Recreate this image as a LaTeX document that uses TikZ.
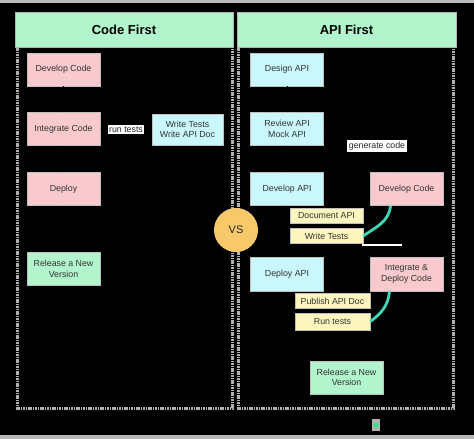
\documentclass[tikz,border=0pt]{standalone}
\usepackage{fontspec}
\setmainfont{Liberation Sans}
\usepackage{tikz}
\definecolor{mint}{HTML}{B2F5CC}
\definecolor{pinkbox}{HTML}{F8C9CD}
\definecolor{cyanbox}{HTML}{C9F7FB}
\definecolor{yellowbox}{HTML}{FCF5BE}
\definecolor{tealline}{HTML}{3FD8B6}
\definecolor{vsorange}{HTML}{F8C96A}
\tikzstyle{box}=[rectangle,draw=gray!50,minimum width=73pt,minimum height=33pt,inner sep=1pt,align=center,text=black!80,font=\fontsize{8.8}{10.5}\selectfont]
\tikzstyle{codebox}=[box,fill=pinkbox]
\tikzstyle{apibox}=[box,fill=cyanbox]
\tikzstyle{relbox}=[box,fill=mint]
\tikzstyle{docbox}=[box,fill=yellowbox,minimum height=15pt]
\tikzstyle{tag}=[rectangle,fill=white,inner sep=1.5pt,text=black!85,font=\fontsize{8.8}{10.5}\selectfont]
\tikzstyle{head}=[rectangle,fill=mint,draw=gray!60,minimum height=35pt,font=\fontsize{13}{15}\selectfont\bfseries]
\tikzstyle{flow}=[->,>=stealth,black]
\tikzstyle{link}=[tealline,line width=2.8pt]
\tikzstyle{panel}=[gray!60,line width=3pt,dash pattern=on 1.6pt off 0.8pt]

\begin{document}
\begin{tikzpicture}[x=1pt,y=-1pt]
    \useasboundingbox (0,0) rectangle (474,439);
    \fill[black] (0,0) rectangle (474,439);
    \fill[gray!55] (0,0) rectangle (474,3);
    \fill[gray!55] (0,435) rectangle (474,439);
%    panels
    \draw[panel] (17,47) -- (17,408) -- (232,408) -- (232,47);
    \draw[panel] (238,47) -- (238,408) -- (453,408) -- (453,47);
    \node[head,minimum width=218pt] (hcode) at (124,29.5) {Code First};
    \node[head,minimum width=219pt] (hapi) at (346.5,29.5) {API First};
%    code first
    \node[codebox] (dc) at (63.5,69.5) {Develop Code};
    \node[codebox] (ic) at (63.5,129) {Integrate Code};
    \node[apibox,minimum width=71pt,minimum height=31pt] (wt) at (187.5,129.5) {Write Tests\\Write API Doc};
    \node[codebox] (dp) at (63.5,189) {Deploy};
    \node[relbox] (rl) at (63.5,269) {Release a New\\Version};
    \draw[flow] (dc) -- (ic);
    \draw[flow] (ic) -- (dp);
    \draw[flow] (dp) -- (rl);
    \draw[flow] (wt) -- node[tag] {run tests} (ic);
%    api first
    \node[apibox] (da) at (287,69.5) {Design API};
    \node[apibox] (ra) at (287,129) {Review API\\Mock API};
    \node[apibox] (dv) at (287,189) {Develop API};
    \node[codebox] (dcr) at (406.5,189) {Develop Code};
    \node[docbox] (doc) at (326.5,216) {Document API};
    \node[docbox] (wtr) at (326.5,236) {Write Tests};
    \node[apibox,minimum height=34pt] (dpa) at (287,274) {Deploy API};
    \node[codebox,minimum height=34pt] (idc) at (406.5,274) {Integrate \&\\Deploy Code};
    \node[docbox,minimum width=75pt] (pub) at (332.5,301) {Publish API Doc};
    \node[docbox,minimum width=75pt,minimum height=17pt] (rt) at (332.5,321.5) {Run tests};
    \node[relbox] (rlr) at (346.5,377.5) {Release a New\\Version};
    \node[tag] (gen) at (377,146) {generate code};
    \draw[flow] (da) -- (ra);
    \draw[flow] (ra) -- (dv);
    \draw[flow] (dv) -- (dpa);
    \draw[black] (ra) -- (gen);
    \draw[flow] (gen) -- (dcr);
    \draw[link] ([xshift=-16pt]dcr.south) to[out=-95,in=35] (wtr.east);
    \draw[link] ([xshift=-17pt]idc.south) to[out=-95,in=35] (rt.east);
    \coordinate (wtend) at (402,245);
    \draw[white,line width=1.5pt] (wtr.south east) |- (wtend);
%    vs
    \node[circle,fill=vsorange,minimum size=44pt,text=black!85,font=\fontsize{11}{13}\selectfont] (vs) at (236,230) {VS};
    \node[rectangle,fill=gray!60,minimum width=8pt,minimum height=12pt,inner sep=0pt] (logo) at (376,425) {};
    \node[circle,fill=tealline!70!green,minimum size=5pt,inner sep=0pt] (logoface) at (logo) {};
\end{tikzpicture}
\end{document}
